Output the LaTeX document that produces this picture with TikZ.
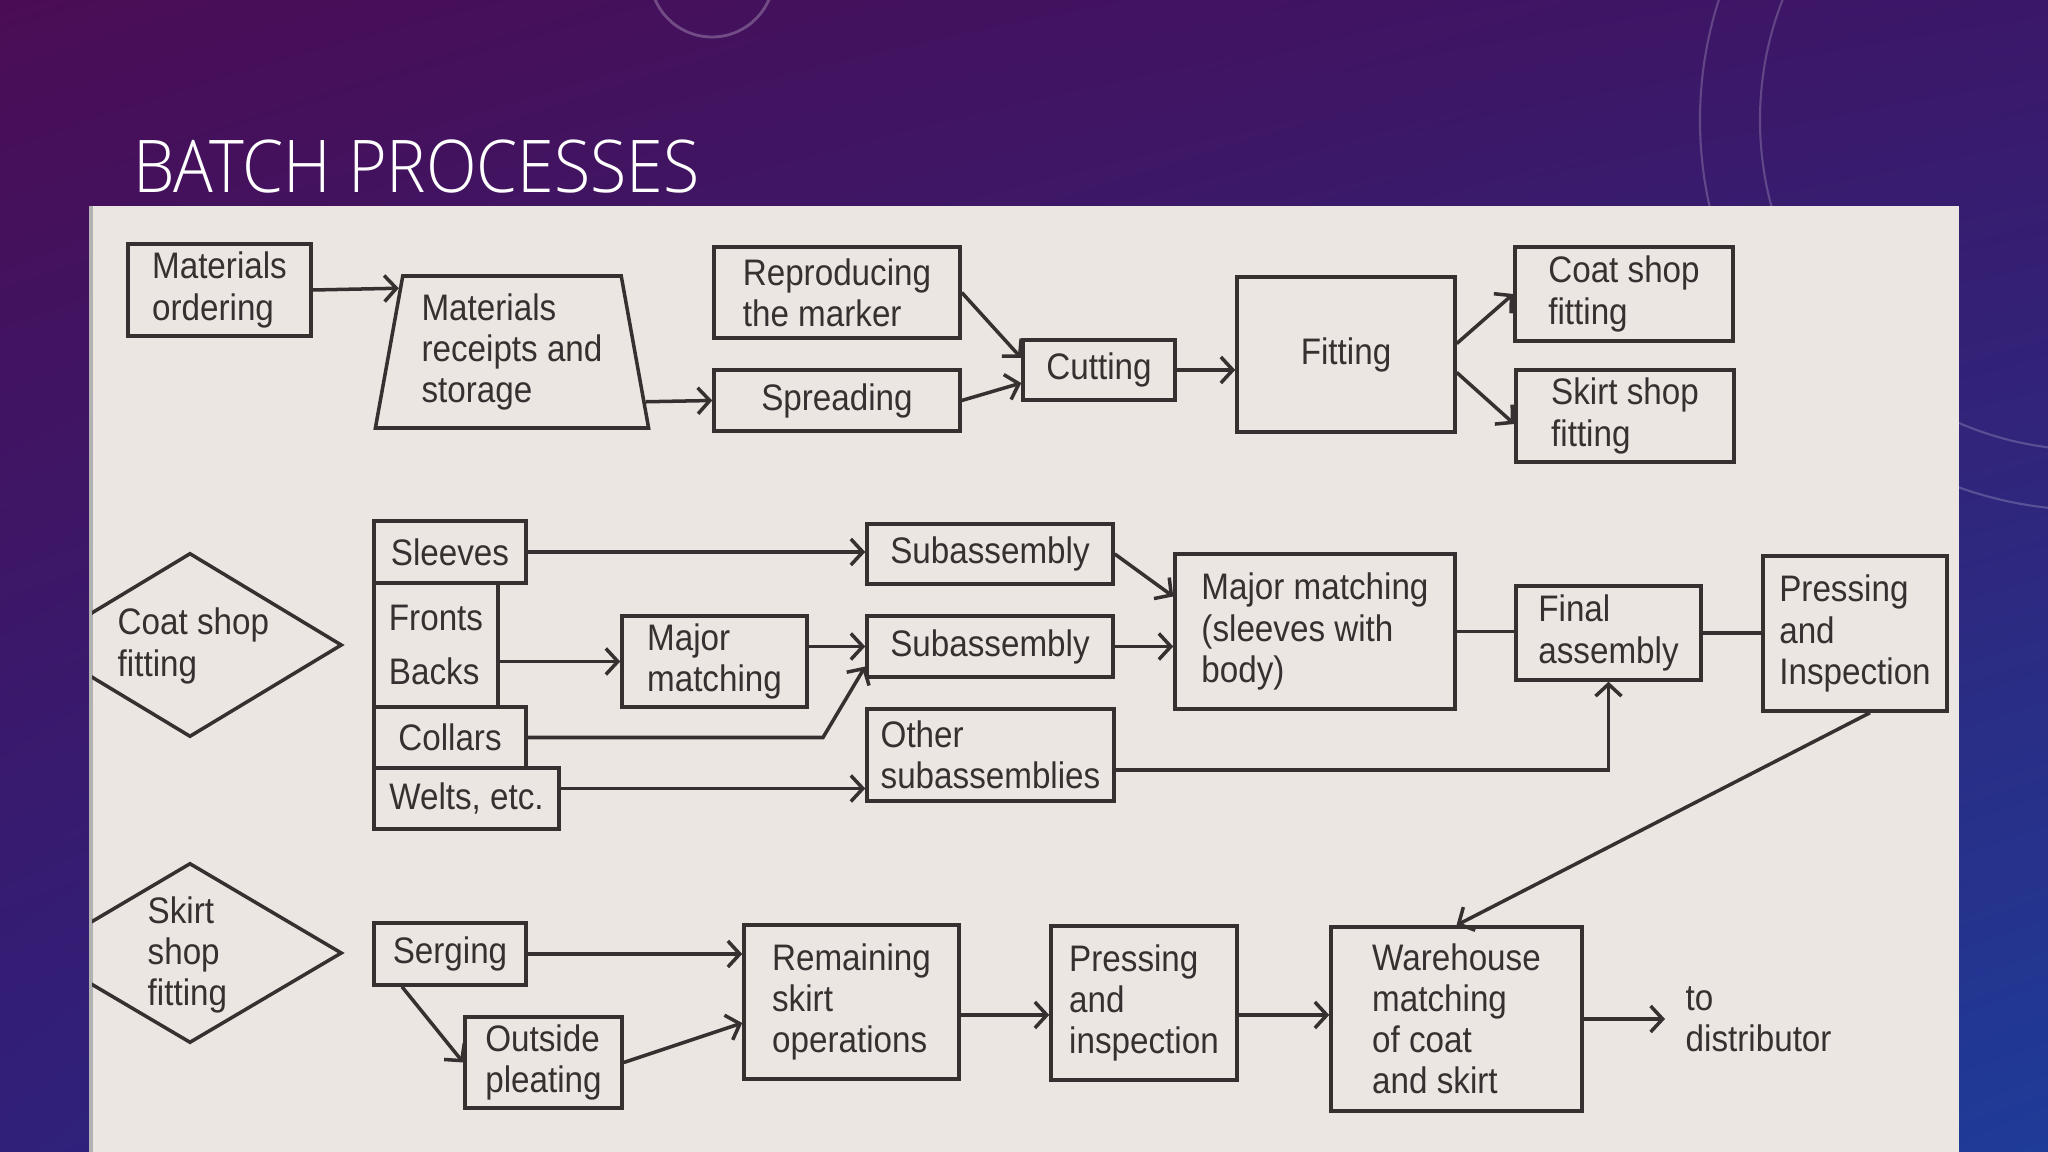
\documentclass[tikz,border=0pt]{standalone}
\usepackage{fontspec}
\setmainfont[FakeStretch=0.9]{Liberation Sans}
\newfontfamily\titlefont[FakeStretch=0.91]{Open Sans Light}
\usetikzlibrary{shapes.geometric, arrows.meta, calc, shadings}

\definecolor{ink}{HTML}{363030}
\definecolor{paper}{HTML}{ECE6E2}
\definecolor{bgul}{HTML}{4A0D55}
\definecolor{bgur}{HTML}{3B1769}
\definecolor{bgll}{HTML}{30207A}
\definecolor{bglr}{HTML}{1E3C98}

\begin{document}
\begin{tikzpicture}[
    proc/.style={draw=ink, line width=1pt, rectangle, align=left, inner sep=0pt,
                 text=ink, font=\fontsize{10.5}{11.7}\selectfont},
    decision/.style={draw=ink, line width=1pt, diamond, inner sep=0pt},
    txt/.style={align=left, inner sep=0pt, text=ink, font=\fontsize{10.5}{11.7}\selectfont},
    flow/.style={draw=ink, line width=1pt, -{Straight Barb[length=1.2mm,width=2.6mm]}},
    link/.style={draw=ink, line width=1pt}
]
    % Slide background and paper
    \useasboundingbox (0,0) rectangle (20.48,-11.52);
    \shade[upper left=bgul, upper right=bgur, lower left=bgll, lower right=bglr]
        (0,0) rectangle (20.48,-11.52);
    \draw[white, opacity=0.25, line width=0.8pt] (7.12,0.25) circle (0.62);
    \draw[white, opacity=0.2, line width=0.6pt] (20.9,-1.2) circle (3.9);
    \draw[white, opacity=0.2, line width=0.6pt] (20.9,-1.2) circle (3.3);
    \fill[paper] (0.90,-2.06) rectangle (19.59,-11.52);
    \draw[gray!60, line width=1.2pt] (0.91,-2.06) -- (0.91,-11.52);
    \node[anchor=base west, inner sep=0pt, text=white,
          font=\titlefont\fontsize{20.7}{24}\selectfont] (title) at (1.33,-1.93) {BATCH PROCESSES};

    % Top row: materials to fitting
    \node[proc, minimum width=1.83cm, minimum height=0.92cm] (order) at (2.195,-2.90) {Materials\\ordering};
    \node[proc, trapezium, trapezium left angle=79, trapezium right angle=79, trapezium stretches=true,
          minimum width=2.74cm, minimum height=1.52cm] (store) at (5.12,-3.52) {Materials\\receipts and\\storage};
    \node[proc, minimum width=2.46cm, minimum height=0.91cm] (marker) at (8.37,-2.925) {Reproducing\\the marker};
    \node[proc, minimum width=2.46cm, minimum height=0.61cm] (spread) at (8.37,-4.005) {Spreading};
    \node[proc, minimum width=1.52cm, minimum height=0.60cm] (cut) at (10.99,-3.70) {Cutting};
    \node[proc, minimum width=2.18cm, minimum height=1.55cm] (fit) at (13.46,-3.545) {Fitting};
    \node[proc, minimum width=2.18cm, minimum height=0.94cm] (coatfit) at (16.24,-2.94) {Coat shop\\fitting};
    \node[proc, minimum width=2.18cm, minimum height=0.92cm] (skirtfit) at (16.25,-4.16) {Skirt shop\\fitting};

    \draw[flow] (order.east) -- ($(store.top left corner)!0.09!(store.bottom left corner)$);
    \draw[flow] ($(store.bottom right corner)!0.18!(store.top right corner)$) -- (spread.west);
    \draw[flow] (marker.east) -- ([yshift=1.2mm]cut.west);
    \draw[flow] (spread.east) -- ([yshift=-1.3mm]cut.west);
    \draw[flow] (cut.east) -- (cut.east -| fit.west);
    \draw[flow] ([yshift=1.1mm]fit.east) -- (coatfit.west);
    \draw[flow] ([yshift=-1.8mm]fit.east) -- ([yshift=-0.8mm]skirtfit.west);

    % Diamonds run off the paper edge
    \begin{scope}
        \clip (0.92,-2.06) rectangle (19.59,-11.52);
        \node[decision, minimum width=3.04cm, minimum height=1.84cm] (coatdia) at (1.90,-6.45) {};
        \node[decision, minimum width=3.04cm, minimum height=1.80cm] (skirtdia) at (1.90,-9.53) {};
    \end{scope}

    % Middle row: coat shop
    \node[txt, anchor=west] (coattxt) at (1.17,-6.46) {Coat shop\\fitting};
    \node[proc, minimum width=1.52cm, minimum height=0.62cm] (sleeves) at (4.50,-5.52) {Sleeves};
    \node[proc, minimum width=1.24cm, minimum height=1.24cm] (fronts) at (4.36,-6.45) {Fronts\\[1.2mm]Backs};
    \node[proc, minimum width=1.52cm, minimum height=0.61cm] (collars) at (4.50,-7.375) {Collars};
    \node[proc, minimum width=1.85cm, minimum height=0.61cm] (welts) at (4.665,-7.985) {Welts, etc.};
    \node[proc, minimum width=1.85cm, minimum height=0.91cm] (majsmall) at (7.145,-6.615) {Major\\matching};
    \node[proc, minimum width=2.46cm, minimum height=0.60cm] (sub1) at (9.90,-5.54) {Subassembly};
    \node[proc, minimum width=2.46cm, minimum height=0.61cm] (sub2) at (9.90,-6.465) {Subassembly};
    \node[proc, minimum width=2.47cm, minimum height=0.92cm] (othersub) at (9.905,-7.55) {Other\\subassemblies};
    \node[proc, minimum width=2.80cm, minimum height=1.55cm] (majbig) at (13.15,-6.315) {Major matching\\(sleeves with\\body)};
    \node[proc, minimum width=1.85cm, minimum height=0.94cm] (final) at (16.085,-6.33) {Final\\assembly};
    \node[proc, minimum width=1.84cm, minimum height=1.55cm] (pressc) at (18.55,-6.335) {Pressing\\and\\Inspection};
    \coordinate (cbend) at (8.23,-7.375);

    \draw[flow] (sleeves.east) -- (sleeves.east -| sub1.west);
    \draw[flow] (majsmall.west -| fronts.east) -- (majsmall.west);
    \draw[flow] (sub2.west -| majsmall.east) -- (sub2.west);
    \draw[flow] (collars.east) -- (cbend) -- ([yshift=-2mm]sub2.west);
    \draw[flow] ([yshift=1mm]welts.east) -- ([yshift=1mm]welts.east -| othersub.west);
    \draw[flow] (sub1.east) -- ([yshift=3.5mm]majbig.west);
    \draw[flow] (sub2.east) -- (sub2.east -| majbig.west);
    \draw[flow] ([yshift=-1.5mm]othersub.east) -| (final.south);
    \draw[link] (majbig.east) -- (majbig.east -| final.west);
    \draw[link] (final.east) -- (final.east -| pressc.west);

    % Bottom row: skirt shop
    \node[txt, anchor=west] (skirttxt) at (1.47,-9.55) {Skirt\\shop\\fitting};
    \node[proc, minimum width=1.52cm, minimum height=0.62cm] (serging) at (4.50,-9.54) {Serging};
    \node[proc, minimum width=1.57cm, minimum height=0.91cm] (pleat) at (5.435,-10.625) {Outside\\pleating};
    \node[proc, minimum width=2.15cm, minimum height=1.54cm] (remain) at (8.515,-10.02) {Remaining\\skirt\\operations};
    \node[proc, minimum width=1.86cm, minimum height=1.54cm] (press) at (11.44,-10.03) {Pressing\\and\\inspection};
    \node[proc, minimum width=2.51cm, minimum height=1.84cm] (ware) at (14.565,-10.19) {Warehouse\\matching\\of coat\\and skirt};
    \node[txt, anchor=west, inner xsep=2mm] (dist) at (16.65,-10.19) {to\\distributor};

    \draw[flow] (serging.east) -- (serging.east -| remain.west);
    \draw[flow] ([xshift=-4.8mm]serging.south) -- (pleat.west);
    \draw[flow] (pleat.east) -- ([yshift=-2.1mm]remain.west);
    \draw[flow] ([yshift=-1.3mm]remain.east) -- ([yshift=-1.3mm]remain.east -| press.west);
    \draw[flow] ([yshift=-1.2mm]press.east) -- ([yshift=-1.2mm]press.east -| ware.west);
    \draw[flow] ([xshift=1.5mm]pressc.south) -- (ware.north);
    \draw[flow] (ware.east) -- (dist.west);
\end{tikzpicture}
\end{document}
